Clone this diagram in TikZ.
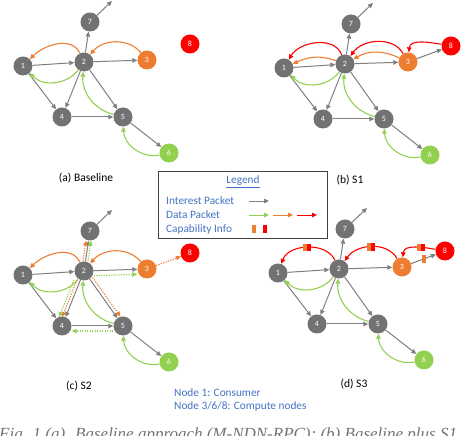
\documentclass[tikz,border=0pt]{standalone}
\usepackage{fontspec}
\setmainfont{Carlito}
\newfontfamily\capfont{Liberation Serif}
\usetikzlibrary{arrows.meta}
\pgfdeclarelayer{back}
\pgfsetlayers{back,main}
\definecolor{ngray}{HTML}{727272}
\definecolor{agray}{HTML}{7F7F7F}
\definecolor{ngreen}{HTML}{92D050}
\definecolor{norange}{HTML}{ED7D31}
\definecolor{nred}{HTML}{FF0000}
\definecolor{lblue}{HTML}{4472C4}
\tikzset{
  nd/.style={circle, minimum size=19pt, inner sep=0pt, text=white, font=\fontsize{8}{9}\selectfont},
  gnode/.style={nd, fill=ngray},
  onode/.style={nd, fill=norange},
  rnode/.style={nd, fill=nred},
  vnode/.style={nd, fill=ngreen},
  tipa/.style={-{Triangle[length=5pt,width=4.5pt]}},
  ia/.style={tipa, draw=agray, line width=1pt},
  ga/.style={tipa, draw=ngreen, line width=1.1pt},
  oa/.style={tipa, draw=norange, line width=1.1pt},
  ra/.style={tipa, draw=nred, line width=1.1pt},
  od/.style={oa, dash pattern=on 1.2pt off 1.3pt},
  gd/.style={ga, dash pattern=on 1.2pt off 1.3pt},
  capo/.style={fill=norange, minimum width=4pt, minimum height=7.5pt, inner sep=0pt},
  capr/.style={fill=nred, minimum width=4pt, minimum height=7.5pt, inner sep=0pt},
  lbl/.style={font=\fontsize{11.5}{13}\selectfont, text=black},
  leg/.style={font=\fontsize{11.3}{13}\selectfont, text=lblue, anchor=west, inner sep=0pt},
}
\newcommand\basegraph[1]{%
  \node[gnode] (#1-1) at (23,370) {1};
  \node[gnode] (#1-2) at (84,374) {2};
  \node[onode] (#1-3) at (147,376) {3};
  \node[gnode] (#1-7) at (90,414) {7};
  \node[rnode] (#1-8) at (190,392) {8};
  \node[gnode] (#1-4) at (62,319) {4};
  \node[gnode] (#1-5) at (123,319) {5};
  \node[vnode] (#1-6) at (169,283) {6};
  \coordinate (#1-out) at (112,435);
  \begin{pgfonlayer}{back}
  \draw[ia] (#1-1) -- (#1-2);
  \draw[ia] (#1-2) -- (#1-3);
  \draw[ia] (#1-2) -- (#1-7);
  \draw[ia] (#1-7) -- (#1-out);
  \draw[ia] (#1-1) -- (#1-4);
  \draw[ia] (#1-2) -- (#1-4);
  \draw[ia] (#1-2) -- (#1-5);
  \draw[ia] (#1-4) -- (#1-5);
  \draw[ia] (#1-5) -- (#1-6);
  \draw[ga] (#1-2) to[bend left=50] (#1-1);
  \draw[ga] (#1-5) to[bend left=40] (#1-2);
  \draw[ga] (#1-6) to[bend left=50] (#1-5);
  \end{pgfonlayer}
}
\begin{document}
\begin{tikzpicture}[x=1pt,y=1pt]
\useasboundingbox (0,0) rectangle (474,436);

% (a) Baseline
\begin{scope}
  \basegraph{a}
  \begin{pgfonlayer}{back}
  \draw[oa] (a-2) to[out=115,in=45] (a-1);
  \draw[oa] (a-3) to[out=130,in=50] (a-2);
  \end{pgfonlayer}
  \node[lbl] (la) at (86,258) {(a) Baseline};
\end{scope}

% (b) S1
\begin{scope}[shift={(261,-2)}]
  \basegraph{b}
  \begin{pgfonlayer}{back}
  \draw[ia] (b-3) -- (b-8);
  \draw[oa] (b-2) to[out=160,in=25] (b-1);
  \draw[oa] (b-3) to[out=155,in=30] (b-2);
  \draw[ra] (b-2) to[out=110,in=60] (b-1);
  \draw[ra] (b-3) to[out=120,in=55] (b-2);
  \draw[ra] (b-8) to[out=170,in=85] (b-3);
  \end{pgfonlayer}
  \node[lbl] (lb) at (89,258) {(b) S1};
\end{scope}

% (c) S2
\begin{scope}[shift={(0,-209)}]
  \basegraph{c}
  \begin{pgfonlayer}{back}
  \draw[oa] (c-2) to[out=115,in=45] (c-1);
  \draw[oa] (c-3) to[out=130,in=50] (c-2);
  \draw[od, transform canvas={xshift=-2.5pt}] (c-2) -- (c-7);
  \draw[gd, transform canvas={xshift=2.5pt}] (c-2) -- (c-7);
  \draw[gd, transform canvas={yshift=-5pt}] (c-2) -- (c-3);
  \draw[od, transform canvas={xshift=-3.5pt}] (c-2) -- (c-4);
  \draw[gd, transform canvas={xshift=-6.5pt}] (c-2) -- (c-4);
  \draw[od, transform canvas={xshift=3pt,yshift=1.5pt}] (c-2) -- (c-5);
  \draw[gd, transform canvas={yshift=-5pt}] (c-5) -- (c-4);
  \draw[od] (c-3) -- (c-8);
  \end{pgfonlayer}
  \node[lbl] (lc) at (79,259) {(c) S2};
\end{scope}

% (d) S3
\begin{scope}[shift={(255,-207)}]
  \basegraph{d}
  \begin{pgfonlayer}{back}
  \draw[ia] (d-3) -- node[capo]{} (d-8);
  \draw[ra] (d-2) to[out=115,in=70]
     node[pos=.5,capo,xshift=-2pt]{} node[pos=.5,capr,xshift=2pt]{} (d-1);
  \draw[ra] (d-3) to[out=120,in=55]
     node[pos=.5,capo,xshift=-2pt]{} node[pos=.5,capr,xshift=2pt]{} (d-2);
  \draw[ra] (d-8) to[out=170,in=85]
     node[pos=.35,capo,xshift=-2pt]{} node[pos=.35,capr,xshift=2pt]{} (d-3);
  \end{pgfonlayer}
  \node[lbl] (ld) at (99,259) {(d) S3};
\end{scope}

% Legend
\node[draw=black!75, line width=0.8pt, minimum width=169pt, minimum height=67pt, inner sep=0pt] (legbox) at (242.5,231.5) {};
\node[font=\fontsize{11.3}{13}\selectfont, text=lblue] (legt) at (243,254) {\underline{Legend}};
\node[leg] (li) at (166,235) {Interest Packet};
\node[leg] (ld2) at (166,221) {Data Packet};
\node[leg] (lc2) at (166,207) {Capability Info};
\coordinate (g1) at (249,235); \coordinate (g2) at (269,235);
\coordinate (h1) at (249,221); \coordinate (h2) at (269,221);
\coordinate (o1) at (273,221); \coordinate (o2) at (293,221);
\coordinate (r1) at (297,221); \coordinate (r2) at (317,221);
\draw[ia, line width=0.8pt] (g1) -- (g2);
\draw[ga, line width=0.8pt] (h1) -- (h2);
\draw[oa, line width=0.8pt] (o1) -- (o2);
\draw[ra, line width=0.8pt] (r1) -- (r2);
\node[capo, minimum height=8pt] (lco) at (254,207) {};
\node[capr, minimum height=8pt] (lcr) at (265,207) {};

% Notes
\node[leg, font=\fontsize{11.3}{13}\selectfont] (n1) at (174,43) {Node 1: Consumer};
\node[leg, font=\fontsize{11.3}{13}\selectfont] (n2) at (174,30) {Node 3/6/8: Compute nodes};

% Caption (cut off at the bottom edge, as in the reference)
\begin{scope}
\clip (0,0) rectangle (474,436);
\node[anchor=base west, inner sep=0pt, text=black!55, font=\capfont\itshape\fontsize{17}{20}\selectfont] (cap) at (-1,-3.5) {Fig. 1 (a). Baseline approach (M-NDN-RPC); (b) Baseline plus S1};
\end{scope}
\end{tikzpicture}
\end{document}
